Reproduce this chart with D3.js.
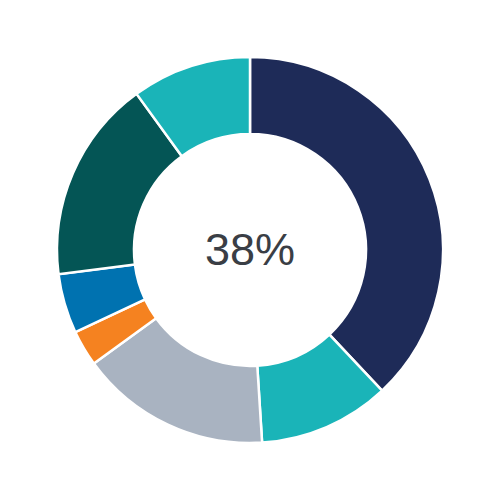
<!DOCTYPE html>
<html>
<head>
<meta charset="utf-8">
<script src="https://cdn.jsdelivr.net/npm/d3@7"></script>
<style>
  body { margin: 0; background: #fff; }
</style>
</head>
<body>
<script>
const categories = ["A", "B", "C", "D", "E", "F", "G"];
const values = [38, 11, 16, 3, 5, 17, 10];
const colors = ["#1e2b58", "#1ab4b8", "#a9b3c1", "#f58220", "#0072b0", "#045555", "#1ab4b8"];
const centerLabel = "38%";

const width = 500, height = 500;
const svg = d3.select("body").append("svg")
  .attr("width", width).attr("height", height);

const g = svg.append("g").attr("transform", `translate(250,250)`);

const pie = d3.pie().sort(null).value(d => d.value);
const arc = d3.arc().innerRadius(116).outerRadius(193);

const data = categories.map((c, i) => ({ name: c, value: values[i], color: colors[i] }));

g.selectAll("path")
  .data(pie(data))
  .enter().append("path")
  .attr("d", arc)
  .attr("fill", d => d.data.color)
  .attr("stroke", "#fff")
  .attr("stroke-width", 2.5);

g.append("text")
  .attr("text-anchor", "middle")
  .attr("y", 15)
  .attr("fill", "#3a3e45")
  .style("font-family", "'Liberation Sans', Arial, sans-serif")
  .style("font-size", "45px")
  .text(centerLabel);
</script>
</body>
</html>
